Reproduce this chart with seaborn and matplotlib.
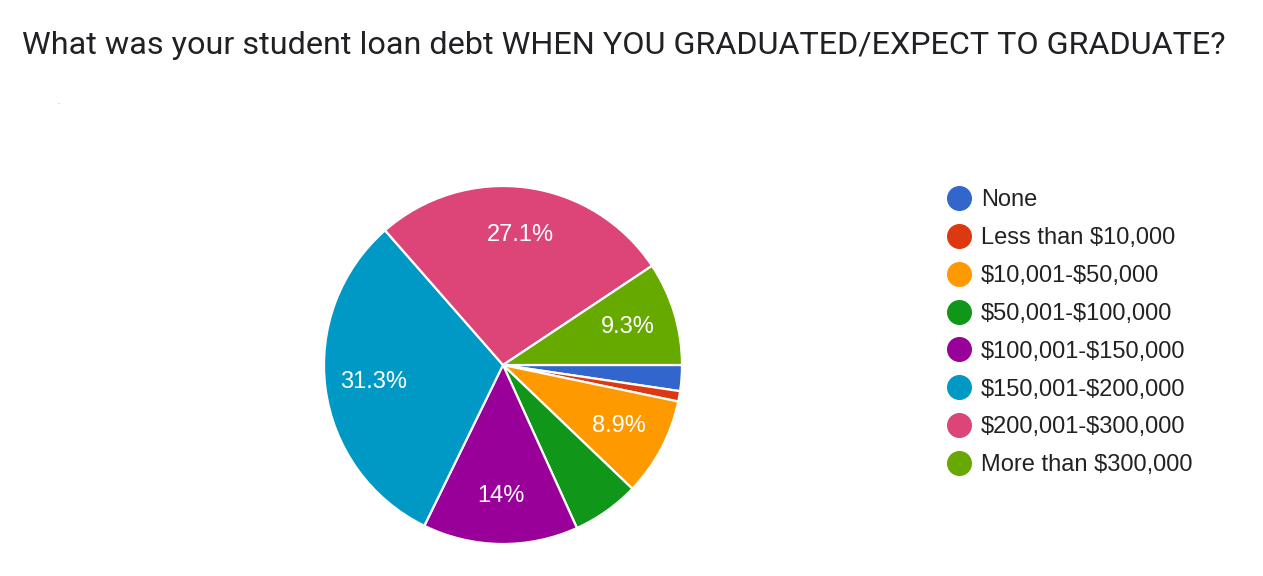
import matplotlib
matplotlib.use("Agg")
import matplotlib.pyplot as plt
from matplotlib.lines import Line2D
import seaborn as sns

# survey answers (counts, total 214)
categories = ["None", "Less than $10,000", "$10,001-$50,000", "$50,001-$100,000",
              "$100,001-$150,000", "$150,001-$200,000", "$200,001-$300,000",
              "More than $300,000"]
counts = [5, 2, 19, 13, 30, 67, 58, 20]
colors = ["#3366cc", "#dc3912", "#ff9900", "#109618",
          "#990099", "#0099c6", "#dd4477", "#66aa00"]

title = "What was your student loan debt WHEN YOU GRADUATED/EXPECT TO GRADUATE?"

sns.set_theme(style="white")
plt.rcParams['font.family'] = ['Liberation Sans', 'DejaVu Sans']
plt.rcParams['text.parse_math'] = False  # dollar signs are literal
palette = sns.color_palette(colors)


def pct_label(p):
    """Google style: hide small slices, drop a trailing .0"""
    if p < 7:
        return ""
    s = f"{p:.1f}"
    if s.endswith(".0"):
        s = s[:-2]
    return s + "%"


W, H = 1263, 576
fig = plt.figure(figsize=(W / 100, H / 100), dpi=100)

cx, cy, r = 503, 365, 179
ax = fig.add_axes([(cx - r) / W, (H - cy - r) / H, 2 * r / W, 2 * r / H])
wedges, texts, autotexts = ax.pie(
    counts, colors=palette, startangle=0, counterclock=False,
    autopct=pct_label, pctdistance=0.73,
    wedgeprops=dict(edgecolor="white", linewidth=1.6),
    textprops=dict(color="white", fontsize=17))
ax.set_xlim(-1, 1)
ax.set_ylim(-1, 1)
ax.set_aspect("equal")

fig.text(22 / W, 1 - 46 / H, title, fontsize=23.3, family=['Roboto', 'DejaVu Sans'],
         color="#202124", ha="left", va="center")
fig.text(57 / W, 1 - 104 / H, ".", fontsize=6, color="#999999")

handles = [Line2D([0], [0], marker="o", linestyle="", markersize=17,
                  markerfacecolor=c, markeredgecolor=c) for c in colors]
fig.legend(handles, categories, loc="upper left",
           bbox_to_anchor=(938 / W, 1 - 180 / H), frameon=False,
           fontsize=17, labelspacing=0.67, handletextpad=0.42,
           handlelength=1.0, borderaxespad=0, labelcolor="#222222")

fig.savefig("out.png", dpi=100)
